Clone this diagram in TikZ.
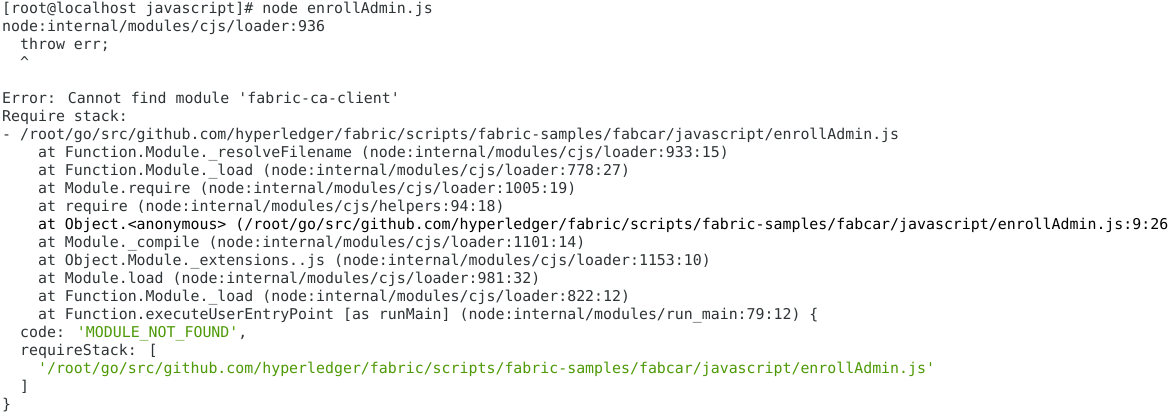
\documentclass[tikz,border=0pt]{standalone}
\usepackage{fontspec}
\newfontfamily\term{DejaVu Sans Mono}
\definecolor{txt}{HTML}{2E3436}
\definecolor{grn}{HTML}{4E9A06}
\begin{document}
\begin{tikzpicture}[x=1pt,y=-1pt,
  ln/.style={anchor=base west,inner sep=0pt,font=\term\fontsize{14.9}{18}\selectfont,text=txt}]
\useasboundingbox[fill=white] (0,0) rectangle (1168,418);
\def\L#1#2#3{\node[ln] (l#1) at ({2+8.97*#2},{13+18*(#1-1)}) {#3};}
\L{1}{0}{[root@localhost javascript]\# node enrollAdmin.js}
\L{2}{0}{node:internal/modules/cjs/loader:936}
\L{3}{2}{throw err;}
\L{4}{2}{\textasciicircum}
\L{6}{0}{Error: Cannot find module 'fabric-ca-client'}
\L{7}{0}{Require stack:}
\L{8}{0}{- /root/go/src/github.com/hyperledger/fabric/scripts/fabric-samples/fabcar/javascript/enrollAdmin.js}
\L{9}{4}{at Function.Module.\_resolveFilename (node:internal/modules/cjs/loader:933:15)}
\L{10}{4}{at Function.Module.\_load (node:internal/modules/cjs/loader:778:27)}
\L{11}{4}{at Module.require (node:internal/modules/cjs/loader:1005:19)}
\L{12}{4}{at require (node:internal/modules/cjs/helpers:94:18)}
\L{13}{4}{\color{black}at Object.<anonymous> (/root/go/src/github.com/hyperledger/fabric/scripts/fabric-samples/fabcar/javascript/enrollAdmin.js:9:26}
\L{14}{4}{at Module.\_compile (node:internal/modules/cjs/loader:1101:14)}
\L{15}{4}{at Object.Module.\_extensions..js (node:internal/modules/cjs/loader:1153:10)}
\L{16}{4}{at Module.load (node:internal/modules/cjs/loader:981:32)}
\L{17}{4}{at Function.Module.\_load (node:internal/modules/cjs/loader:822:12)}
\L{18}{4}{at Function.executeUserEntryPoint [as runMain] (node:internal/modules/run\_main:79:12) \{}
\L{19}{2}{code: \textcolor{grn}{'MODULE\_NOT\_FOUND'},}
\L{20}{2}{requireStack: [}
\L{21}{4}{\textcolor{grn}{'/root/go/src/github.com/hyperledger/fabric/scripts/fabric-samples/fabcar/javascript/enrollAdmin.js'}}
\L{22}{2}{]}
\L{23}{0}{\}}
\end{tikzpicture}
\end{document}
